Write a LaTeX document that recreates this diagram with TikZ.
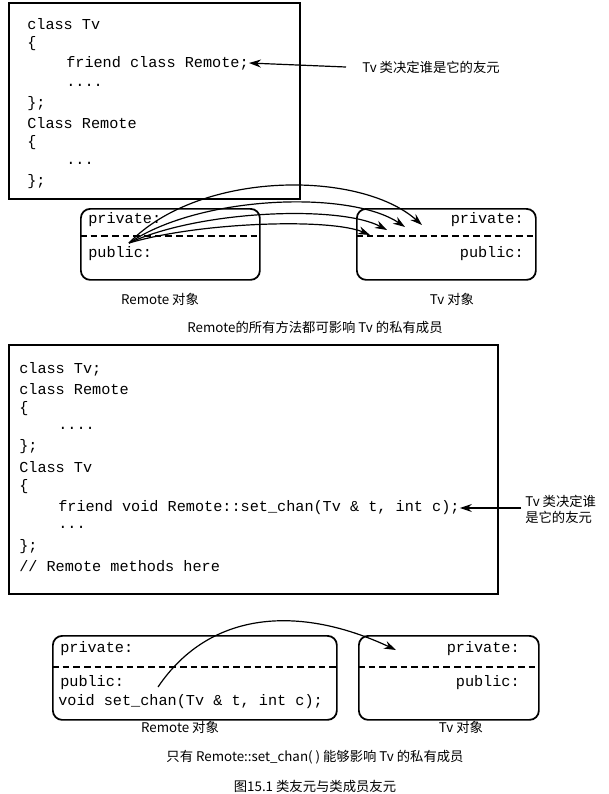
\documentclass[tikz,border=0pt]{standalone}
\usepackage{fontspec}
\setmonofont{Liberation Mono}
\newfontfamily\cjk{Noto Sans CJK SC}
\usetikzlibrary{arrows.meta}
\begin{document}
\begin{tikzpicture}[x=0.75pt,y=-0.75pt,
  code/.style={anchor=west,inner sep=0pt,font=\ttfamily\fontsize{11.4}{13}\selectfont},
  lbl/.style={inner sep=0pt,font=\cjk\fontsize{10}{12}\selectfont},
  box/.style={draw,line width=1.3pt},
  obj/.style={draw,line width=1.3pt,rounded corners=7pt},
  dsh/.style={line width=1.3pt,dash pattern=on 5pt off 3pt},
  arr/.style={-{Stealth[length=9pt,width=6pt]},line width=0.9pt}]
\useasboundingbox (0,0) rectangle (609,794);
% top code box
\node[box,minimum width=291*0.75pt,minimum height=196*0.75pt,anchor=north west,inner sep=0pt] (cb1) at (8,2) {};
\node[code] (t1) at (27,24) {class Tv};
\node[code] (t2) at (27,44) {\{};
\node[code] (t3) at (66,63) {friend class Remote;};
\node[code] (t4) at (66,85) {....};
\node[code] (t5) at (27,104) {\};};
\node[code] (t6) at (27,123) {Class Remote};
\node[code] (t7) at (27,143) {\{};
\node[code] (t8) at (66,163) {...};
\node[code] (t9) at (27,182) {\};};
\node[lbl,anchor=west] (l1) at (362,67) {Tv 类决定谁是它的友元};
\coordinate (l1a) at (346,67);
\draw[arr] (l1a) -- (t3.east);
% top objects
\node[obj,minimum width=179*0.75pt,minimum height=71*0.75pt,anchor=north west] (r1) at (80,208) {};
\draw[dsh] (80,236) -- (259,236);
\node[code] (r1p) at (88,220) {private:};
\node[code] (r1u) at (88,254) {public:};
\node[obj,minimum width=179*0.75pt,minimum height=71*0.75pt,anchor=north west] (v1) at (356,208) {};
\draw[dsh] (356,236) -- (535,236);
\node[code,anchor=east] (v1p) at (524,220) {private:};
\node[code,anchor=east] (v1u) at (524,254) {public:};
\node[lbl] (rl1) at (160,299) {Remote 对象};
\node[lbl] (vl1) at (452,299) {Tv 对象};
\node[lbl] (c1) at (315,327) {Remote的所有方法都可影响 Tv 的私有成员};
\coordinate (o1) at (129,243);
\coordinate (e1) at (422,225);
\coordinate (e2) at (405,227);
\coordinate (e3) at (387,230);
\coordinate (e4) at (370,235);
\draw[arr] (o1) .. controls (200,170) and (360,170) .. (e1);
\draw[arr] (o1) .. controls (200,195) and (350,190) .. (e2);
\draw[arr] (o1) .. controls (200,210) and (340,205) .. (e3);
\draw[arr] (o1) .. controls (200,222) and (330,218) .. (e4);
% second code box
\node[box,minimum width=489*0.75pt,minimum height=249*0.75pt,anchor=north west,inner sep=0pt] (cb2) at (8,344) {};
\node[code] (s1) at (19,369) {class Tv;};
\node[code] (s2) at (19,389) {class Remote};
\node[code] (s3) at (19,409) {\{};
\node[code] (s4) at (58,428) {....};
\node[code] (s5) at (19,447) {\};};
\node[code] (s6) at (19,467) {Class Tv};
\node[code] (s7) at (19,487) {\{};
\node[code] (s8) at (58,508) {friend void Remote::set\_chan(Tv \& t, int c);};
\node[code] (s9) at (58,527) {...};
\node[code] (s10) at (19,547) {\};};
\node[code] (s11) at (19,566) {// Remote methods here};
\node[lbl,anchor=west,align=left] (l2) at (525,509) {Tv 类决定谁\\是它的友元};
\coordinate (l2a) at (521,508);
\draw[arr] (l2a) -- (s8.east);
% bottom objects
\node[obj,minimum width=284*0.75pt,minimum height=84*0.75pt,anchor=north west] (r2) at (52,635) {};
\draw[dsh] (52,667) -- (336,667);
\node[code] (r2p) at (60,649) {private:};
\node[code] (r2u) at (60,683) {public:};
\node[code] (r2v) at (58,702) {void set\_chan(Tv \& t, int c);};
\node[obj,minimum width=180*0.75pt,minimum height=84*0.75pt,anchor=north west] (v2) at (358,635) {};
\draw[dsh] (358,667) -- (538,667);
\node[code,anchor=east] (v2p) at (520,649) {private:};
\node[code,anchor=east] (v2u) at (520,683) {public:};
\node[lbl] (rl2) at (180,727) {Remote 对象};
\node[lbl] (vl2) at (461,727) {Tv 对象};
\node[lbl] (c2) at (315,757) {只有 Remote::set\_chan( ) 能够影响 Tv 的私有成员};
\node[lbl] (c3) at (315,786) {图15.1 类友元与类成员友元};
\coordinate (o2) at (158,687);
\coordinate (e5) at (396,650);
\draw[arr] (o2) .. controls (210,610) and (300,605) .. (e5);
\end{tikzpicture}
\end{document}
